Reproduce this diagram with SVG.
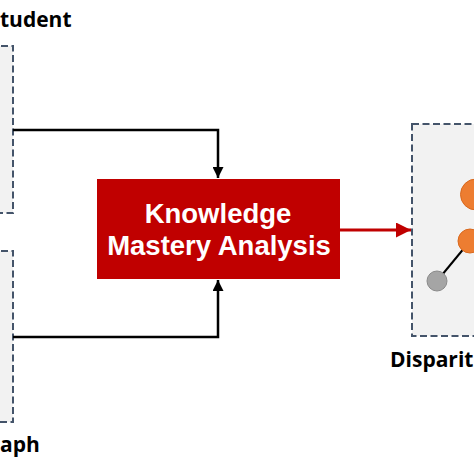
<svg xmlns="http://www.w3.org/2000/svg" width="474" height="474" viewBox="0 0 474 474">
<style>
.dash{fill:#f2f2f2;stroke:#44546a;stroke-width:2;stroke-dasharray:7 3.5}
.lbl{font-family:"Open Sans","Noto Sans","DejaVu Sans",sans-serif;font-weight:bold;font-size:21px;fill:#000}
.btxt{font-family:"Liberation Sans",Arial,sans-serif;font-weight:bold;font-size:27.5px;fill:#fff;text-anchor:middle}
.conn{fill:none;stroke:#000;stroke-width:2.5}
</style>
<defs>
<marker id="ah" viewBox="0 0 10 10" refX="10" refY="5" markerWidth="4.4" markerHeight="4.4" markerUnits="strokeWidth" orient="auto">
<path d="M0,0 L10,5 L0,10 z" fill="#000"/>
</marker>
<marker id="ahr" viewBox="0 0 10 10" refX="10" refY="5" markerWidth="5" markerHeight="5" markerUnits="strokeWidth" orient="auto">
<path d="M0,0 L10,5 L0,10 z" fill="#c00000"/>
</marker>
</defs>
<rect width="474" height="474" fill="#fff"/>
<g id="student">
<rect class="dash" x="-20" y="46" width="33" height="167"/>
<text class="lbl" x="0" y="27">tudent</text>
</g>
<g id="graph">
<rect class="dash" x="-20" y="251" width="33" height="171"/>
<text class="lbl" x="0" y="452">aph</text>
</g>
<g id="analysis">
<rect x="97" y="179" width="243" height="100" fill="#c00000"/>
<text class="btxt"><tspan x="218" y="223">Knowledge</tspan><tspan x="219" y="255">Mastery Analysis</tspan></text>
</g>
<g id="disparity">
<rect class="dash" x="412" y="124" width="80" height="212"/>
<line x1="437" y1="281" x2="470" y2="241" stroke="#000" stroke-width="2"/>
<circle cx="476" cy="194.5" r="15.5" fill="#ed7d31" stroke="#d9691e" stroke-width="1"/>
<circle cx="470" cy="241" r="12" fill="#ed7d31" stroke="#d9691e" stroke-width="1"/>
<circle cx="437" cy="281" r="10" fill="#a5a5a5" stroke="#8a8a8a" stroke-width="1"/>
<text class="lbl" x="390" y="367">Disparit</text>
</g>
<g id="connectors">
<path class="conn" d="M13,130 H218 V178" marker-end="url(#ah)"/>
<path class="conn" d="M13,337 H218 V280" marker-end="url(#ah)"/>
<path d="M340,230 H411" fill="none" stroke="#c00000" stroke-width="3" marker-end="url(#ahr)"/>
</g>
</svg>
